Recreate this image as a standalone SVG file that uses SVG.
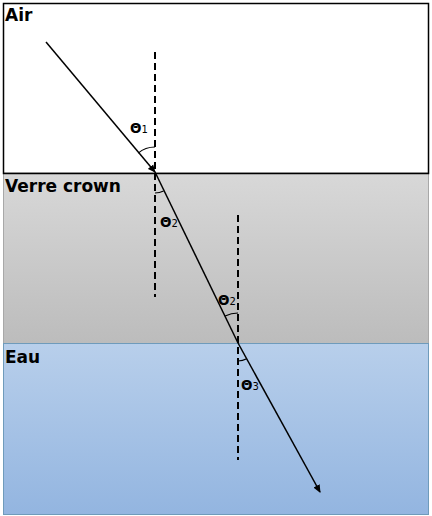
<svg xmlns="http://www.w3.org/2000/svg" width="432" height="516" viewBox="0 0 432 516">
<defs>
<linearGradient id="glass" x1="0" y1="0" x2="0" y2="1"><stop offset="0" stop-color="#d8d8d8"/><stop offset="1" stop-color="#bcbcbc"/></linearGradient>
<linearGradient id="water" x1="0" y1="0" x2="0" y2="1"><stop offset="0" stop-color="#b8cfeb"/><stop offset="1" stop-color="#93b5e0"/></linearGradient>
<marker id="arr" markerWidth="8" markerHeight="8" refX="7" refY="4" orient="auto" markerUnits="userSpaceOnUse"><path d="M0,0.5 L8,4 L0,7.5 Z" fill="#000"/></marker>
<style>
.lbl{font-family:"DejaVu Sans",Verdana,sans-serif;font-weight:bold;font-size:17px;fill:#000}
.ang{font-family:"DejaVu Sans",Verdana,sans-serif;font-weight:bold;font-size:13.5px;fill:#000}
.sub{font-size:10px;font-weight:normal}
.ray{stroke:#000;stroke-width:1.5;fill:none}
.norm{stroke:#000;stroke-width:2;stroke-dasharray:7 4;fill:none}
.arc{stroke:#000;stroke-width:1.2;fill:none}
</style>
</defs>
<g id="air"><rect x="3.5" y="3.5" width="425" height="170" fill="#fff" stroke="#000" stroke-width="1.5"/><text class="lbl" x="5" y="21">Air</text></g>
<g id="verre"><rect x="3.5" y="173.5" width="425" height="170" fill="url(#glass)" stroke="#a8a8a8" stroke-width="1"/><line x1="3" y1="173.5" x2="429" y2="173.5" stroke="#000" stroke-width="1.5"/><text class="lbl" x="5" y="192">Verre crown</text></g>
<g id="eau"><rect x="3.5" y="343.5" width="425" height="171" fill="url(#water)" stroke="#6f9bbb" stroke-width="1"/><text class="lbl" x="5" y="363">Eau</text></g>
<g id="connectors">
<line class="norm" x1="155" y1="52" x2="155" y2="297"/>
<line class="norm" x1="238" y1="215" x2="238" y2="460"/>
<line class="ray" x1="46" y1="42" x2="155" y2="172" marker-end="url(#arr)"/>
<line class="ray" x1="155" y1="172" x2="238" y2="343"/>
<line class="ray" x1="238" y1="343" x2="320" y2="492" marker-end="url(#arr)"/>
<path class="arc" d="M138.2,153.1 A26,26 0 0 1 155,147"/>
<path class="arc" d="M155,193 A20,20 0 0 0 163.6,191"/>
<path class="arc" d="M225.1,316 A30,30 0 0 1 238,313"/>
<path class="arc" d="M238,361 A18,18 0 0 0 246.7,358.8"/>
</g>
<g id="labels">
<text class="ang" x="130" y="133">Θ<tspan class="sub">1</tspan></text>
<text class="ang" x="160" y="227">Θ<tspan class="sub">2</tspan></text>
<text class="ang" x="218" y="305">Θ<tspan class="sub">2</tspan></text>
<text class="ang" x="241" y="390">Θ<tspan class="sub">3</tspan></text>
</g>
</svg>
